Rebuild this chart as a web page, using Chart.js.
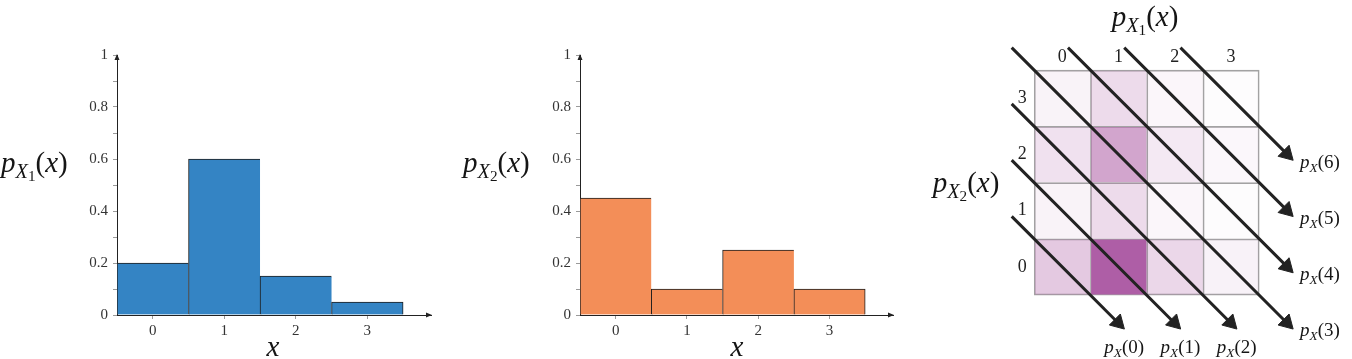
<!DOCTYPE html>
<html>
<head>
<meta charset="utf-8">
<script src="https://cdn.jsdelivr.net/npm/chart.js@4.4.1/dist/chart.umd.min.js"></script>
<style>
html,body{margin:0;padding:0;background:#fff;}
#wrap{position:relative;width:1352px;height:359px;overflow:hidden;background:#fff;}
canvas{position:absolute;top:0;}
.m{position:absolute;font-family:"Liberation Serif","Times New Roman",Times,Tinos,"Noto Serif","DejaVu Serif",serif;color:#151515;white-space:nowrap;line-height:1;}
.m i{font-style:italic;}
.m sub{font-size:0.7em;vertical-align:-0.3em;line-height:0;}
.m sub sub{font-size:0.75em;vertical-align:-0.2em;}
.big{font-size:29px;}
.small{font-size:19px;}
</style>
</head>
<body>
<div id="wrap">
  <canvas id="c1" width="450" height="359" style="left:0px"></canvas>
  <canvas id="c2" width="450" height="359" style="left:450px"></canvas>
  <canvas id="c3" width="452" height="359" style="left:900px"></canvas>

  <div class="m big" style="left:1px;top:148px;"><i>p</i><sub><i>X</i><sub>1</sub></sub>(<i>x</i>)</div>
  <div class="m big" style="left:273px;top:332px;transform:translateX(-50%);"><i>x</i></div>
  <div class="m big" style="left:463px;top:148px;"><i>p</i><sub><i>X</i><sub>2</sub></sub>(<i>x</i>)</div>
  <div class="m big" style="left:737px;top:332px;transform:translateX(-50%);"><i>x</i></div>
  <div class="m big" style="left:1145px;top:2px;transform:translateX(-50%);"><i>p</i><sub><i>X</i><sub>1</sub></sub>(<i>x</i>)</div>
  <div class="m big" style="left:966px;top:168px;transform:translateX(-50%);"><i>p</i><sub><i>X</i><sub>2</sub></sub>(<i>x</i>)</div>
  <div id="sumLabels"></div>
</div>
<script>
// ---------- data ----------
const xCategories = [0, 1, 2, 3];
const xTickLabels = ['0', '1', '2', '3'];
const pX1 = [0.2, 0.6, 0.15, 0.05];
const pX2 = [0.45, 0.1, 0.25, 0.1];
const yTickValues = [0, 0.1, 0.2, 0.3, 0.4, 0.5, 0.6, 0.7, 0.8, 0.9, 1];
const yTickLabels = ['0', '', '0.2', '', '0.4', '', '0.6', '', '0.8', '', '1'];
const heatX1 = [0, 1, 2, 3];
const heatX2 = [0, 1, 2, 3];
// joint probabilities, one row per X2 value (X2 = 0,1,2,3), columns X1 = 0..3
const jointX2is0 = [0.09, 0.27, 0.0675, 0.0225];
const jointX2is1 = [0.02, 0.06, 0.015, 0.005];
const jointX2is2 = [0.05, 0.15, 0.0375, 0.0125];
const jointX2is3 = [0.02, 0.06, 0.015, 0.005];
const jointRows = [jointX2is0, jointX2is1, jointX2is2, jointX2is3];
const sumValues = [0, 1, 2, 3, 4, 5, 6];

// ---------- styling ----------
const FONT = "'Liberation Serif', 'Times New Roman', Times, Tinos, 'Noto Serif', 'DejaVu Serif', serif";
const axisArrows = {
  id: 'axisArrows',
  afterDraw(chart) {
    const {ctx, chartArea: a} = chart;
    ctx.save();
    ctx.fillStyle = '#222';
    ctx.beginPath();
    ctx.moveTo(a.left, a.top - 1);
    ctx.lineTo(a.left - 2.5, a.top + 5);
    ctx.lineTo(a.left + 2.5, a.top + 5);
    ctx.closePath();
    ctx.fill();
    ctx.beginPath();
    ctx.moveTo(a.right + 1, a.bottom);
    ctx.lineTo(a.right - 5, a.bottom - 2.5);
    ctx.lineTo(a.right - 5, a.bottom + 2.5);
    ctx.closePath();
    ctx.fill();
    ctx.restore();
  }
};

function barChart(id, values, color, yAxisWidth, padRight) {
  const last = values.length - 1;
  return new Chart(document.getElementById(id), {
    type: 'bar',
    data: {
      datasets: [{
        data: xCategories.map((x, i) => ({x: x, y: values[i]})),
        backgroundColor: color,
        borderColor: '#1e1e1e',
        borderWidth: c => ({top: 1, left: 1, bottom: 0, right: c.dataIndex === last ? 1 : 0}),
        borderSkipped: false,
        barPercentage: 1,
        categoryPercentage: 1
      }]
    },
    options: {
      responsive: false, animation: false, devicePixelRatio: 1, events: [],
      layout: {padding: {left: 0, right: padRight, top: 55, bottom: 0}},
      plugins: {legend: {display: false}, tooltip: {enabled: false}},
      scales: {
        x: {
          type: 'linear', min: -0.5, max: 3.89, offset: false,
          afterBuildTicks: s => { s.ticks = xCategories.map(v => ({value: v})); },
          afterFit: s => { s.height = 44; },
          grid: {display: true, drawOnChartArea: false, drawTicks: true, tickLength: 4, color: '#9a9a9a', offset: false},
          border: {display: true, color: '#222', width: 1},
          ticks: {callback: (v, i) => xTickLabels[i], font: {family: FONT, size: 15}, color: '#333', padding: 3, maxRotation: 0, autoSkip: false}
        },
        y: {
          type: 'linear', min: 0, max: 1,
          afterBuildTicks: s => { s.ticks = yTickValues.map(v => ({value: v})); },
          afterFit: s => { s.width = yAxisWidth; },
          grid: {display: true, drawOnChartArea: false, drawTicks: true, tickLength: 4, color: '#9a9a9a'},
          border: {display: true, color: '#222', width: 1},
          ticks: {callback: (v, i) => yTickLabels[i], font: {family: FONT, size: 15}, color: '#333', padding: 5, autoSkip: false}
        }
      }
    },
    plugins: [axisArrows]
  });
}

barChart('c1', pX1, '#3484c4', 117, 19);
barChart('c2', pX2, '#f38e58', 130, 7);

// ---------- heatmap with diagonal arrows ----------
const pMax = Math.max(...jointRows.flat());
const headBack = 0.11;
const arrowStart = k => Math.max(-0.9, k - 3.9);
const arrowTip = k => Math.min(4.1, k + 1.1);
const datasets = [];
sumValues.forEach(k => {
  const xs = arrowStart(k);
  const xe = arrowTip(k) - headBack;
  datasets.push({
    type: 'line',
    data: [{x: xs, y: k - xs}, {x: xe, y: k - xe}],
    borderColor: '#222', borderWidth: 3,
    pointRadius: [0, 9], pointStyle: 'triangle', pointRotation: 135,
    pointBackgroundColor: '#222', pointBorderColor: '#222', pointBorderWidth: 1,
    fill: false, tension: 0, clip: false, order: 0
  });
});
heatX2.forEach((j, r) => {
  datasets.push({
    type: 'bar',
    data: heatX1.map(i => ({x: i, y: [j - 0.5, j + 0.5]})),
    backgroundColor: heatX1.map(i => 'rgba(174,94,166,' + (jointRows[r][i] / pMax).toFixed(4) + ')'),
    borderColor: '#a3a3a3',
    borderWidth: c => ({left: 1, top: 1, right: c.dataIndex === heatX1.length - 1 ? 1 : 0, bottom: j === 0 ? 1 : 0}),
    borderSkipped: false, grouped: false,
    barPercentage: 1, categoryPercentage: 1, order: 1
  });
});

const heat = new Chart(document.getElementById('c3'), {
  type: 'bar',
  data: {datasets: datasets},
  options: {
    responsive: false, animation: false, devicePixelRatio: 1, events: [],
    layout: {padding: {left: 111.7, right: 53.4, top: 47.6, bottom: 24.5}},
    plugins: {legend: {display: false}, tooltip: {enabled: false}},
    scales: {
      x: {
        type: 'linear', position: 'top', min: -0.9, max: 4.2, offset: false,
        afterBuildTicks: s => { s.ticks = heatX1.map(v => ({value: v})); },
        afterFit: s => { s.height = 0; },
        grid: {display: false}, border: {display: false},
        ticks: {mirror: true, padding: 0, callback: (v, i) => String(heatX1[i]), font: {family: FONT, size: 18, lineHeight: 1.1}, color: '#222', autoSkip: false, maxRotation: 0}
      },
      y: {
        type: 'linear', min: -1.2, max: 3.9,
        afterBuildTicks: s => { s.ticks = heatX2.map(v => ({value: v})); },
        afterFit: s => { s.width = 0; },
        grid: {display: false}, border: {display: false},
        ticks: {mirror: true, padding: 6, callback: (v, i) => String(heatX2[i]), font: {family: FONT, size: 18}, color: '#222', autoSkip: false}
      }
    }
  }
});

// labels p_X(k) placed at the arrow tips
const holder = document.getElementById('sumLabels');
const sx = heat.scales.x, sy = heat.scales.y;
sumValues.forEach(k => {
  const tx = arrowTip(k);
  const px = 900 + sx.getPixelForValue(tx);
  const py = sy.getPixelForValue(k - tx);
  const d = document.createElement('div');
  d.className = 'm small';
  d.innerHTML = '<i>p</i><sub><i>X</i></sub>(' + k + ')';
  if (k <= 2) {
    d.style.left = px + 'px';
    d.style.top = (348 - 11.4) + 'px';
    d.style.transform = 'translateX(-50%)';
  } else {
    d.style.left = '1300px';
    d.style.top = (py + 3 - 11.4) + 'px';
  }
  holder.appendChild(d);
});
</script>
</body>
</html>
